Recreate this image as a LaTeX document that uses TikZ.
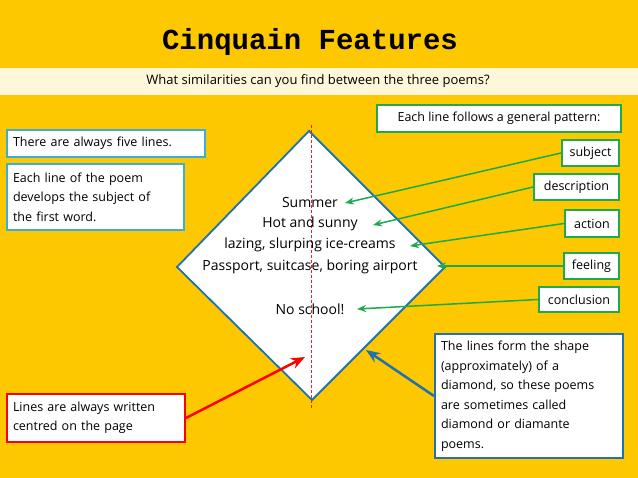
\documentclass[tikz,border=0pt]{standalone}
\usepackage{fontspec}
\setmainfont{Open Sans}
\newfontfamily\titlefont{Liberation Mono}
\usetikzlibrary{arrows.meta}
\begin{document}
\begin{tikzpicture}[x=1pt,y=-1pt,
  bx/.style={draw,line width=2pt,fill=white,inner ysep=0pt,inner xsep=6pt,font=\fontsize{12.5}{19.5}\selectfont},
  gr/.style={draw=grn},cy/.style={draw=cyn},
  ga/.style={-{Stealth[length=9pt,width=7pt]},line width=1.5pt,draw=grn},
  pt/.style={font=\fontsize{14}{15}\selectfont}]
\definecolor{bg}{HTML}{FDC800}
\definecolor{grn}{HTML}{1DAA4A}
\definecolor{cyn}{HTML}{3BAFD3}
\definecolor{blu}{HTML}{2071B0}
\definecolor{dred}{HTML}{F02020}
\fill[bg] (0,0) rectangle (638,478);
\fill[white!85!bg] (0,68) rectangle (638,95);
\node (title) at (310,42) {\titlefont\bfseries\fontsize{29}{32}\selectfont Cinquain Features};
\node (q) at (318,81) {\fontsize{13}{15}\selectfont What similarities can you find between the three poems?};
\draw[blu,line width=1.8pt,fill=white] (309,131) coordinate (dt) -- (445,267) -- (312,400) coordinate (db) -- (177,267) -- cycle;
\draw[draw=dred,dash pattern=on 3pt off 2pt,line width=1pt] (311,125) -- (311,410);
\node[pt] (l1) at (310,203) {Summer};
\node[pt] (l2) at (310,224) {Hot and sunny};
\node[pt] (l3) at (310,245) {lazing, slurping ice-creams};
\node[pt] (l4) at (310,267) {Passport, suitcase, boring airport};
\node[pt] (l5) at (310,309) {No school!};
\coordinate (a1) at (345,203); \coordinate (a2) at (373,225); \coordinate (a3) at (410,246);
\coordinate (a4) at (437,266); \coordinate (a5) at (357,309);
\node[bx,cy,minimum width=198pt,minimum height=27pt,anchor=north west,align=left,text width=186pt] (b1) at (6,129) {There are always five lines.};
\node[bx,cy,minimum width=177pt,minimum height=66pt,anchor=north west,align=left,text width=165pt] (b2) at (6,163) {Each line of the poem\\develops the subject of\\the first word.};
\node[bx,gr,minimum width=244pt,minimum height=27pt,anchor=north west] (hd) at (376,104) {Each line follows a general pattern:};
\node[bx,gr,minimum width=57pt,minimum height=26pt,anchor=north east] (s) at (620,139) {subject};
\node[bx,gr,minimum width=85pt,minimum height=26pt,anchor=north east] (d) at (620,173) {description};
\node[bx,gr,minimum width=54pt,minimum height=27pt,anchor=north east] (a) at (620,209) {action};
\node[bx,gr,minimum width=55pt,minimum height=26pt,anchor=north east] (f) at (620,252) {feeling};
\node[bx,gr,minimum width=80pt,minimum height=25pt,anchor=north east] (c) at (620,286) {conclusion};
\draw[ga] (s.west) -- (a1);
\draw[ga] (d.west) -- (a2);
\draw[ga] (a.west) -- (a3);
\draw[ga] (f.west) -- (a4);
\draw[ga] (c.west) -- (a5);
\node[bx,draw=blu,minimum width=188pt,minimum height=124pt,anchor=north west,align=left,text width=176pt] (bb) at (434,333) {The lines form the shape\\(approximately) of a\\diamond, so these poems\\are sometimes called\\diamond or diamante\\poems.};
\node[bx,draw=red,minimum width=178pt,minimum height=48pt,anchor=north west,align=left,text width=166pt] (rb) at (6,393) {Lines are always written\\centred on the page};
\coordinate (rt) at (305,357); \coordinate (bt) at (366,350);
\draw[-{Stealth[length=14pt,width=11pt]},line width=2.5pt,red] (rb.east) -- (rt);
\draw[-{Stealth[length=14pt,width=11pt]},line width=2.5pt,blu] (bb.west) -- (bt);
\end{tikzpicture}
\end{document}
